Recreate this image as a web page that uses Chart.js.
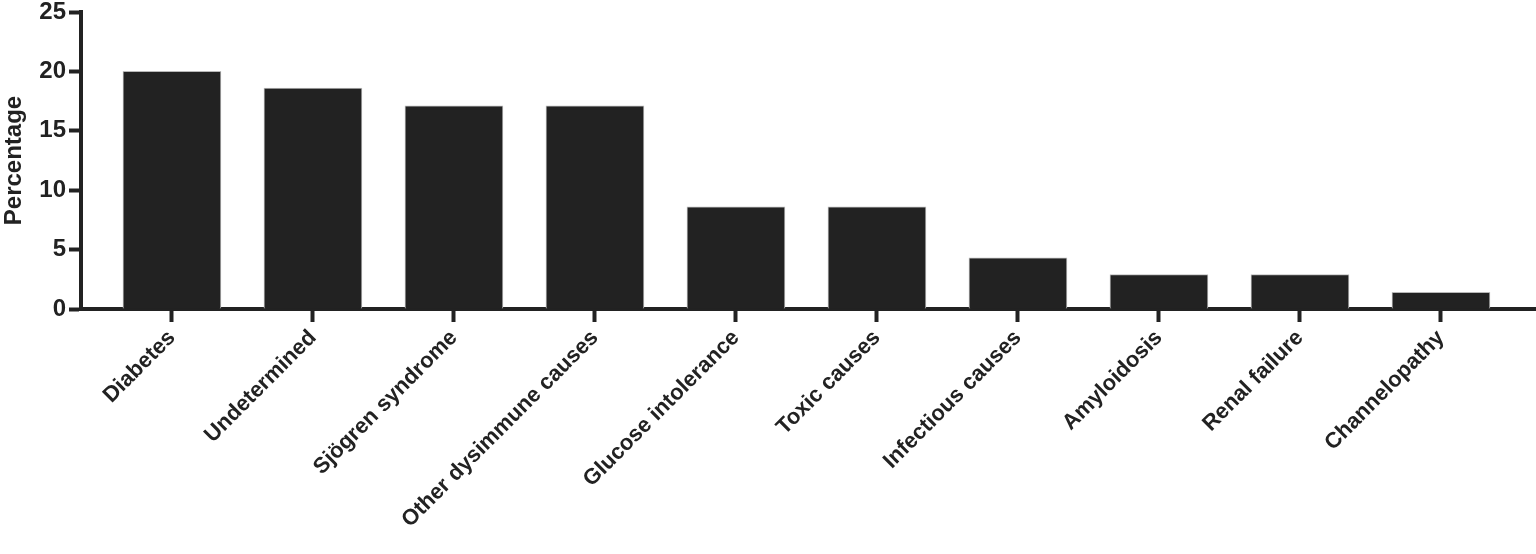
<!DOCTYPE html>
<html>
<head>
<meta charset="utf-8">
<script src="https://cdn.jsdelivr.net/npm/chart.js@4/dist/chart.umd.min.js"></script>
<style>
  html, body { margin: 0; padding: 0; background: #fff; }
  #wrap { width: 1536px; height: 554px; }
</style>
</head>
<body>
<div id="wrap"><canvas id="myChart"></canvas></div>
<script>
// data (percent of patients)
const categories = ["Diabetes", "Undetermined", "Sjögren syndrome", "Other dysimmune causes",
  "Glucose intolerance", "Toxic causes", "Infectious causes", "Amyloidosis", "Renal failure", "Channelopathy"];
const percentages = [20.0, 18.6, 17.1, 17.1, 8.6, 8.6, 4.3, 2.9, 2.9, 1.4];
const yTicks = [0, 5, 10, 15, 20, 25];

const ink = "#222222";
const font = "'Liberation Sans', Arial, Helvetica, sans-serif";

new Chart(document.getElementById("myChart").getContext("2d"), {
  type: "bar",
  data: {
    datasets: [{
      label: "Percentage",
      data: categories.map((c, i) => ({ x: i, y: percentages[i] })),
      backgroundColor: ink,
      borderColor: "#b8b8b8",
      borderWidth: 1,
      barThickness: 98
    }]
  },
  options: {
    responsive: true,
    maintainAspectRatio: false,
    animation: false,
    layout: { padding: { top: 12, right: 0, left: 0, bottom: 0 } },
    plugins: { legend: { display: false }, tooltip: { enabled: false } },
    scales: {
      x: {
        type: "linear",
        offset: false,
        min: -0.645,
        max: 9.674,
        afterFit: (s) => { s.height = 245; },
        border: { display: true, color: ink, width: 4 },
        grid: { drawOnChartArea: false, drawTicks: true, tickLength: 13, tickWidth: 4, tickColor: ink, offset: false },
        ticks: {
          stepSize: 1,
          includeBounds: false,
          autoSkip: false,
          maxRotation: 45,
          minRotation: 45,
          padding: 3,
          color: ink,
          font: { family: font, size: 22, weight: "bold" },
          callback: (v) => (Number.isInteger(v) && categories[v] !== undefined ? categories[v] : "")
        }
      },
      y: {
        min: yTicks[0],
        max: yTicks[yTicks.length - 1],
        afterFit: (s) => { s.width = 81; s.paddingTop = 0; s.paddingBottom = 0; },
        border: { display: true, color: ink, width: 4 },
        grid: { drawOnChartArea: false, drawTicks: true, tickLength: 12, tickWidth: 4, tickColor: ink },
        afterBuildTicks: (s) => { s.ticks = yTicks.map(v => ({ value: v })); },
        ticks: {
          padding: 3,
          color: ink,
          font: { family: font, size: 24, weight: "bold" }
        },
        title: {
          display: true,
          text: "Percentage",
          color: ink,
          padding: { top: 0, bottom: 0 },
          font: { family: font, size: 24, weight: "bold" }
        }
      }
    }
  }
});
</script>
</body>
</html>
